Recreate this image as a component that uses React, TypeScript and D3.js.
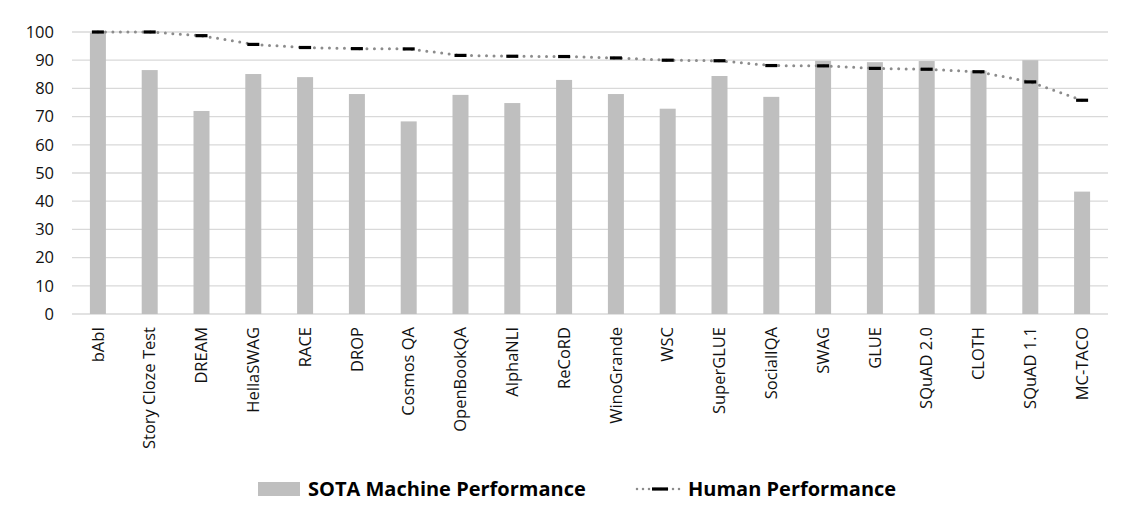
import React from "react";
import * as d3 from "d3";

const categories = [
  "bAbI", "Story Cloze Test", "DREAM", "HellaSWAG", "RACE", "DROP", "Cosmos QA",
  "OpenBookQA", "AlphaNLI", "ReCoRD", "WinoGrande", "WSC", "SuperGLUE", "SocialIQA",
  "SWAG", "GLUE", "SQuAD 2.0", "CLOTH", "SQuAD 1.1", "MC-TACO",
];
const machine = [99.7, 86.5, 72.0, 85.1, 84.0, 78.0, 68.3, 77.7, 74.8, 83.0, 78.0, 72.8, 84.4, 77.0, 89.8, 89.3, 89.7, 86.3, 90.0, 43.4];
const human = [100, 100, 98.7, 95.6, 94.5, 94.1, 94.0, 91.7, 91.4, 91.3, 90.8, 90.0, 89.8, 88.1, 88.0, 87.1, 86.8, 85.9, 82.3, 75.8];
const yTicks = [0, 10, 20, 30, 40, 50, 60, 70, 80, 90, 100];

const W = 1129, H = 509;
const left = 72, right = 1108, top = 32, bottom = 314;
const font = "'Open Sans', sans-serif";

export default function App() {
  const x = d3.scaleBand<string>().domain(categories).range([left, right]).paddingInner(0).paddingOuter(0);
  const y = d3.scaleLinear().domain([0, 100]).range([bottom, top]);
  const bw = 16;
  const cx = (c: string) => (x(c) as number) + x.bandwidth() / 2;
  const line = d3.line<number>().x((_, i) => cx(categories[i])).y((d) => y(d));

  return (
    <svg width={W} height={H} style={{ position: "absolute", left: 0, top: 0, background: "#fff" }}>
      {yTicks.map((t) => (
        <g key={t}>
          <line x1={left} x2={right} y1={y(t)} y2={y(t)} stroke="#d9d9d9" strokeWidth={1.3} />
          <text x={54} y={y(t)} dy="0.35em" textAnchor="end" fontFamily={font} fontSize={16.5} fill="#111">
            {t}
          </text>
        </g>
      ))}
      {categories.map((c, i) => (
        <rect key={c} x={cx(c) - bw / 2} y={y(machine[i])} width={bw} height={y(0) - y(machine[i])} fill="#bfbfbf" />
      ))}
      <path d={line(human) || ""} fill="none" stroke="#8c8c8c" strokeWidth={3} strokeLinecap="round" strokeDasharray="0 7.5" />
      {categories.map((c, i) => (
        <rect key={"h" + c} x={cx(c) - 6} y={y(human[i]) - 1.6} width={12} height={3.2} fill="#000" />
      ))}
      {categories.map((c) => (
        <text
          key={"l" + c}
          transform={`translate(${cx(c)},327) rotate(-90)`}
          textAnchor="end"
          dy="0.35em"
          fontFamily={font}
          fontSize={16.5}
          fill="#111"
        >
          {c}
        </text>
      ))}
      <g>
        <rect x={258} y={482} width={42} height={14} fill="#bfbfbf" />
        <text x={308} y={489} dy="0.35em" fontFamily={font} fontSize={20} fontWeight="bold" fill="#000">
          SOTA Machine Performance
        </text>
        <line x1={637} x2={680} y1={489} y2={489} stroke="#8c8c8c" strokeWidth={2.5} strokeLinecap="round" strokeDasharray="0 6" />
        <rect x={652} y={487.4} width={16} height={3.2} fill="#000" />
        <text x={688} y={489} dy="0.35em" fontFamily={font} fontSize={20} fontWeight="bold" fill="#000">
          Human Performance
        </text>
      </g>
    </svg>
  );
}
